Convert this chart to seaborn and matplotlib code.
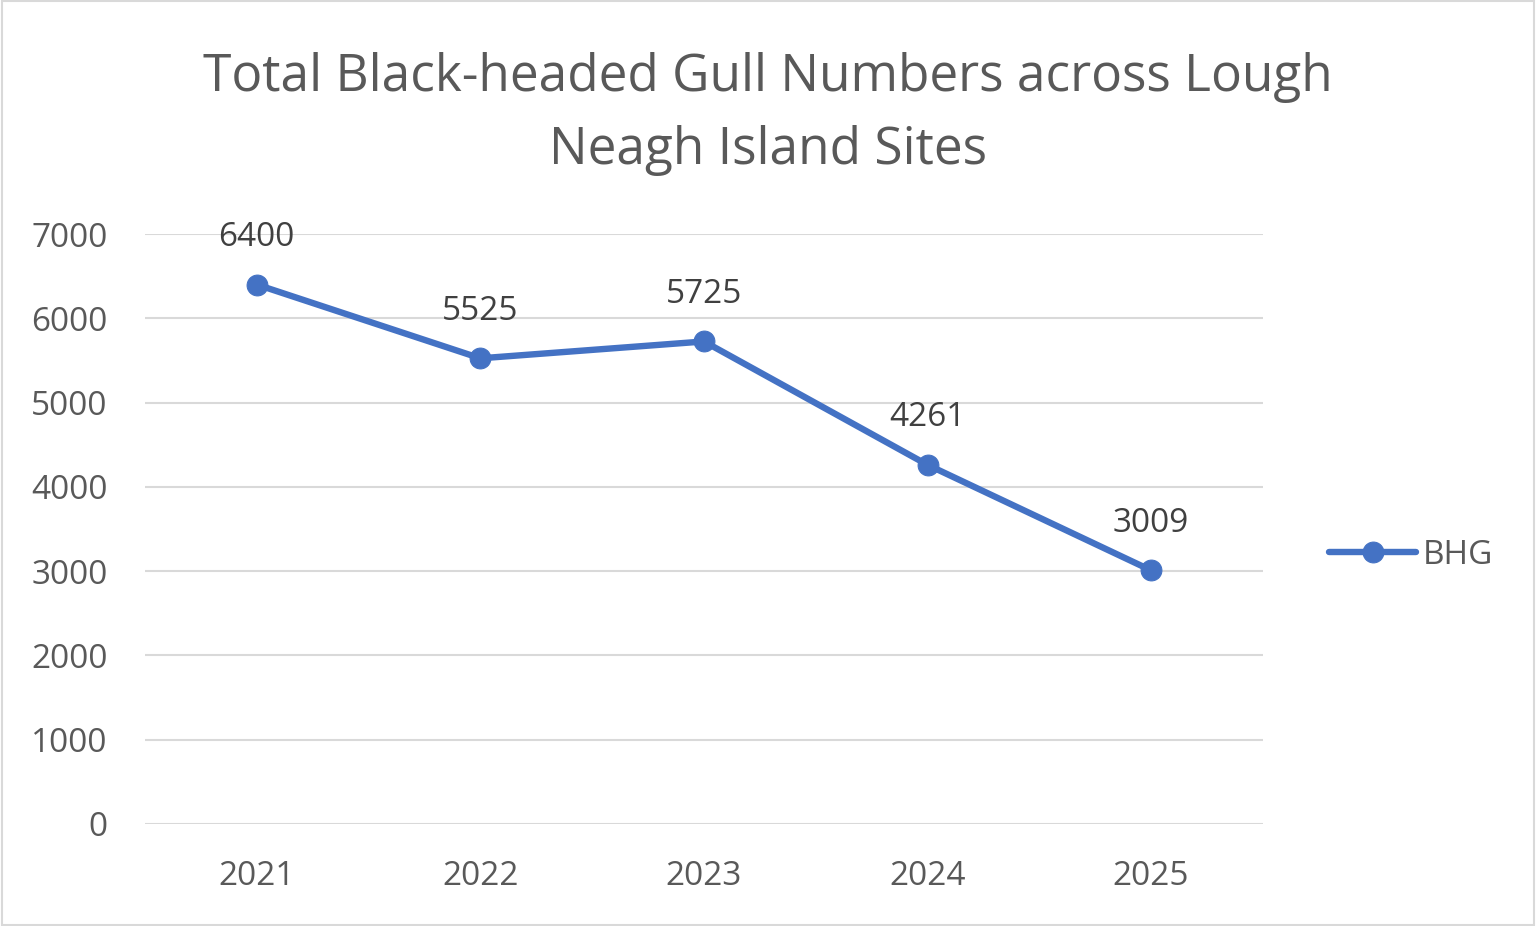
import numpy as np
import pandas as pd
import matplotlib
matplotlib.use("Agg")
import matplotlib.pyplot as plt
import seaborn as sns

# data
years = ["2021", "2022", "2023", "2024", "2025"]
bhg = [6400, 5525, 5725, 4261, 3009]
y_ticks = [0, 1000, 2000, 3000, 4000, 5000, 6000, 7000]

df = pd.DataFrame({"Year": years, "BHG": bhg})

sns.set_theme(style="white")
plt.rcParams["font.family"] = ["Open Sans", "DejaVu Sans"]

blue = "#4472C4"
grey_text = "#595959"

fig = plt.figure(figsize=(15.36, 9.26), dpi=100)
ax = fig.add_axes([0.0944, 0.1102, 0.7278, 0.6371])

sns.lineplot(data=df, x="Year", y="BHG", ax=ax, color=blue, linewidth=4.6,
             marker="o", markersize=15, markeredgecolor=blue, label="BHG",
             sort=False)

# data labels
for i, v in enumerate(bhg):
    ax.annotate(str(v), (i, v), xytext=(0, 22), textcoords="offset points",
                ha="center", va="bottom", fontsize=24, color="#404040")

ax.set_xlim(-0.5, len(years) - 0.5)
ax.set_ylim(0, 7000)
ax.set_yticks(y_ticks)
ax.set_yticklabels([str(t) for t in y_ticks])
ax.grid(axis="y", color="#D9D9D9", linewidth=1.5)
ax.grid(axis="x", visible=False)
for s in ax.spines.values():
    s.set_visible(False)
ax.tick_params(axis="both", length=0, labelsize=24, colors=grey_text)
ax.tick_params(axis="x", pad=26)
ax.tick_params(axis="y", pad=27)
ax.set_xlabel("")
ax.set_ylabel("")

leg = ax.legend(loc="center left", bbox_to_anchor=(1.0325, 0.455), frameon=False,
                fontsize=24, handlelength=2.6, handletextpad=0.2)
for t in leg.get_texts():
    t.set_color(grey_text)

fig.text(0.5, 0.877, "Total Black-headed Gull Numbers across Lough\nNeagh Island Sites",
         ha="center", va="center", fontsize=37, color=grey_text, linespacing=1.58)

# chart border
fig.patches.append(plt.Rectangle((0.001, 0.001), 0.998, 0.998, transform=fig.transFigure,
                                 fill=False, edgecolor="#D9D9D9", linewidth=1.5))

fig.savefig("out.png", dpi=100)
